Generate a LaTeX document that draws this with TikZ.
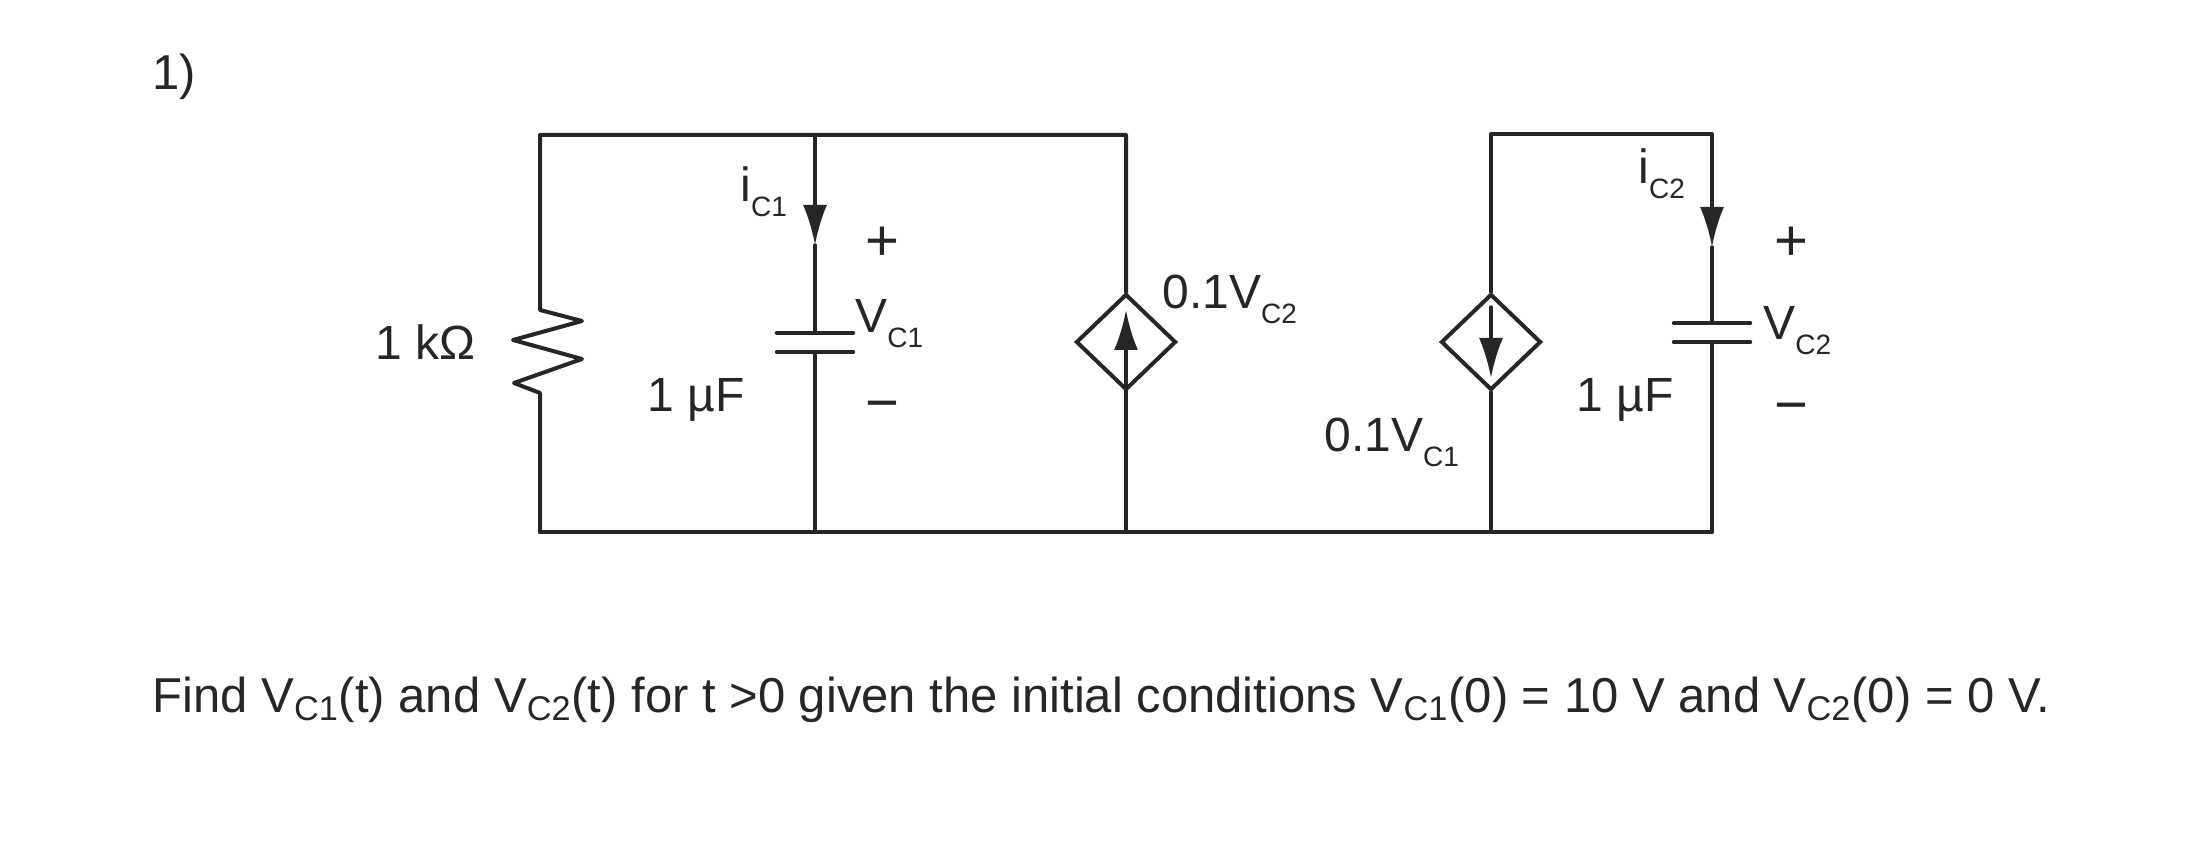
\documentclass[tikz,border=0pt]{standalone}
\usepackage{fontspec}
\setmainfont{Liberation Sans}
\usetikzlibrary{arrows.meta}
\usetikzlibrary{shapes.geometric}
\newcommand{\subtxt}[2]{#1\raisebox{-7.5pt}{\fontsize{14}{16}\selectfont #2}}
\tikzset{
	wire/.style={black!85, line width=1.7pt, line cap=round, line join=round},
	currentArrow/.style={wire, -{Latex[length=20pt,width=12pt]}},
	lbl/.style={anchor=base west, inner sep=0pt, font=\fontsize{24}{27}\selectfont, text=black!85},
	bigLbl/.style={lbl, font=\fontsize{24.5}{28}\selectfont},
	signLbl/.style={anchor=center, inner sep=0pt, font=\fontsize{29}{32}\selectfont, text=black!85},
	depSource/.style={diamond, draw=black!85, line width=2pt, aspect=1, inner sep=0pt, minimum width=50pt, minimum height=48pt}
}
\tikzset{
	capacitor/.pic={
		\coordinate (-top) at (0,-9.5);
		\coordinate (-bot) at (0,9.5);
		\draw[wire] (-38.5,-9.5) -- (38.5,-9.5);
		\draw[wire] (-38.5,9.5) -- (38.5,9.5);
	}
}

\begin{document}
\begin{tikzpicture}[x=0.5pt,y=-0.5pt]
			\useasboundingbox (0,0) rectangle (2212,854);
			% corners and branch points
			\coordinate (topL) at (540,135);
			\coordinate (topCa) at (815,135);
			\coordinate (topSa) at (1126,135);
			\coordinate (topSb) at (1491,134);
			\coordinate (topR) at (1712,134);
			\coordinate (botL) at (540,532);
			\coordinate (botCa) at (815,532);
			\coordinate (botSa) at (1126,532);
			\coordinate (botSb) at (1491,532);
			\coordinate (botR) at (1712,532);
			\coordinate (resTop) at (540,310);
			\coordinate (resBot) at (540,393);
			\coordinate (tipCa) at (815,245);
			\coordinate (tipCb) at (1712,247);
			% elements
			\pic (capA) at (815,342.5) {capacitor};
			\pic (capB) at (1712,332.5) {capacitor};
			\node[depSource] (srcA) at (1126,342) {};
			\node[depSource] (srcB) at (1491,342) {};
			\coordinate (tipSa) at (1126,310);
			\coordinate (tipSb) at (1491,378);
			\coordinate (tailSb) at (1491,307);
			% wires
			\draw[wire, line width=2pt] (botL) -- (resBot) -- ++(-26,-10) -- ++(68,-24) -- ++(-69,-19) -- ++(69,-19) -- (resTop) -- (topL) -- (topSa) -- (srcA.north);
			\draw[wire, line width=2pt] (botL) -- (botR);
			\draw[currentArrow] (topCa) -- (tipCa);
			\draw[wire] (tipCa) -- (capA-top);
			\draw[wire] (capA-bot) -- (botCa);
			\draw[wire] (srcA.south) -- (botSa);
			\draw[currentArrow] (srcA.south) -- (tipSa);
			\draw[wire] (srcB.north) -- (topSb) -- (topR);
			\draw[currentArrow] (topR) -- (tipCb);
			\draw[wire] (tipCb) -- (capB-top);
			\draw[wire] (capB-bot) -- (botR);
			\draw[wire] (srcB.south) -- (botSb);
			\draw[currentArrow] (tailSb) -- (tipSb);
			% labels
			\node[bigLbl] (oneLbl) at (152,90) {1)};
			\node[lbl] (resLbl) at (375,360) {1 kΩ};
			\node[lbl] (capLblA) at (647,412) {1 µF};
			\node[lbl] (capLblB) at (1576,412) {1 µF};
			\node[lbl] (iLblA) at (740,202) {\subtxt{i}{C1}};
			\node[lbl] (iLblB) at (1638,184) {\subtxt{i}{C2}};
			\node[lbl] (vLblA) at (855,333) {\subtxt{V}{C1}};
			\node[lbl] (vLblB) at (1763,340) {\subtxt{V}{C2}};
			\node[lbl] (gainLblA) at (1162,309) {\subtxt{0.1V}{C2}};
			\node[lbl] (gainLblB) at (1324,452) {\subtxt{0.1V}{C1}};
			\node[signLbl] (plusA) at (882,244) {+};
			\node[signLbl] (minusA) at (882,412) {−};
			\node[signLbl] (plusB) at (1791,244) {+};
			\node[signLbl] (minusB) at (1791,414) {−};
			\node[bigLbl] (findLbl) at (152,713) {Find V\textsubscript{C1}(t) and V\textsubscript{C2}(t) for t >0 given the initial conditions V\textsubscript{C1}(0) = 10 V and V\textsubscript{C2}(0) = 0 V.};
		\end{tikzpicture}
\end{document}
